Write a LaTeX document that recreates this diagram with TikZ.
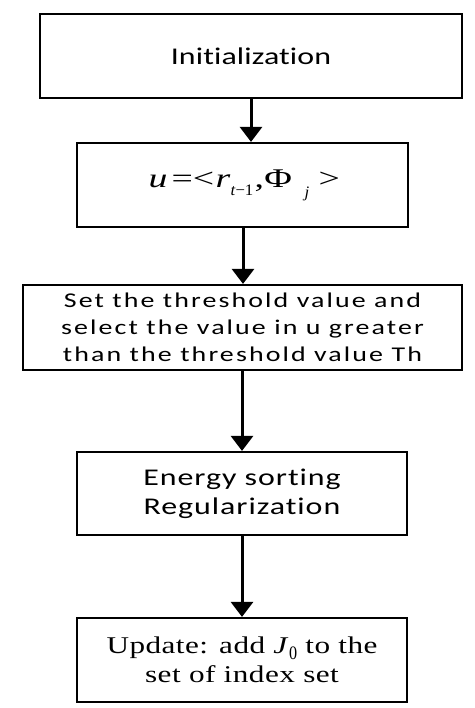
\documentclass[tikz,border=0pt]{standalone}
\usepackage{fontspec}
\usetikzlibrary{arrows.meta}
\newfontfamily\boxsans[FakeStretch=1.33,LetterSpace=0.5,Ligatures=NoCommon]{Carlito}
\newfontfamily\boxsansE[FakeStretch=1.33,LetterSpace=4,Ligatures=NoCommon]{Carlito}
\newfontfamily\boxsanswide[FakeStretch=1.33,LetterSpace=10,Ligatures=NoCommon]{Carlito}
\newfontfamily\boxserif[FakeStretch=1.3,LetterSpace=2]{Liberation Serif}
\newfontfamily\mathserif[FakeStretch=1.4]{Liberation Serif}
\newfontfamily\subserif[FakeStretch=1.05]{Liberation Serif}
\newfontfamily\subserifnarrow[FakeStretch=0.85]{Liberation Serif}
\newcommand{\mpiece}[2]{\makebox[#1][l]{#2}}
\begin{document}
\begin{tikzpicture}[x=1pt,y=-1pt,
  flowbox/.style={draw=black,line width=2.2pt,inner sep=0pt,align=center,text=black},
  flowarrow/.style={line width=3pt,-{Triangle[width=22pt,length=15pt]}}]
\useasboundingbox (0,0) rectangle (474,708);
\node[flowbox,minimum width=422pt,minimum height=84pt,font=\boxsans\fontsize{24}{30}\selectfont] (init) at (251,56) {Initialization};
\node[flowbox,minimum width=331pt,minimum height=84pt,font=\mathserif\fontsize{27}{32}\selectfont] (corr) at (242.5,185)
  {\kern4pt\mpiece{23pt}{\textit{u}}\mpiece{44pt}{=<}\mpiece{15pt}{\textit{r}}%
   \mpiece{24pt}{\raisebox{-8pt}{\subserif\fontsize{16}{16}\selectfont\textit{t}\textminus1}}%
   \mpiece{10pt}{,}\mpiece{40pt}{\upshape\char"03A6}%
   \mpiece{14pt}{\raisebox{-10pt}{\subserif\fontsize{16}{16}\selectfont\textit{j}}}\mpiece{22pt}{>}};
\node[flowbox,minimum width=439pt,minimum height=85pt,font=\boxsanswide\fontsize{21}{27}\selectfont] (thr) at (242.5,327.5)
  {Set the threshold value and\\select the value in u greater\\than the threshold value Th};
\node[flowbox,minimum width=330pt,minimum height=83pt,font=\boxsansE\fontsize{24}{29}\selectfont] (energy) at (242,493.5)
  {Energy sorting\\Regularization};
\node[flowbox,minimum width=330pt,minimum height=84pt,font=\boxserif\fontsize{24}{29}\selectfont] (update) at (242,660)
  {Update: add \textit{J}\raisebox{-6pt}{\subserifnarrow\fontsize{19}{19}\selectfont 0} to the\\set of index set};
\draw[flowarrow] (init.south) -- (init.south |- corr.north);
\draw[flowarrow] ([xshift=0.5pt]corr.south) -- ([xshift=0.5pt]corr.south |- thr.north);
\draw[flowarrow] ([xshift=-0.5pt]thr.south) -- ([xshift=-0.5pt]thr.south |- energy.north);
\draw[flowarrow] (energy.south) -- (update.north);
\end{tikzpicture}
\end{document}
